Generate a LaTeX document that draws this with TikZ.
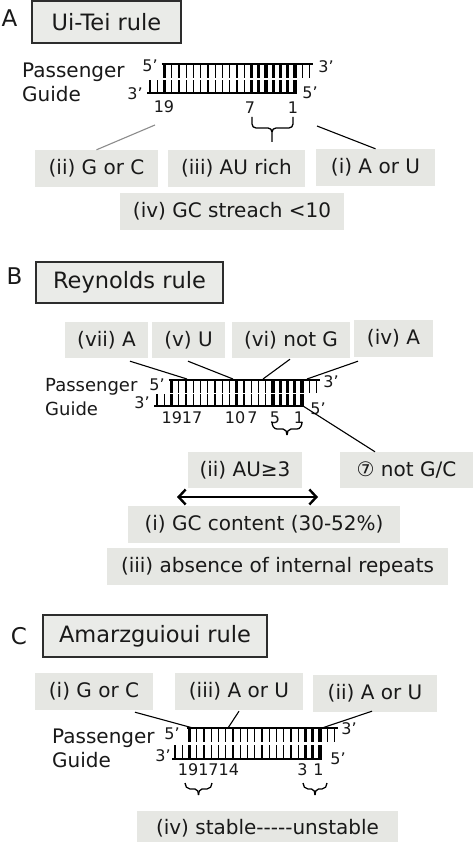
\documentclass[tikz,border=0pt]{standalone}
\usepackage{fontspec}
\setmainfont{DejaVu Sans}
\usetikzlibrary{arrows.meta}
\definecolor{boxfill}{RGB}{230,231,227}
\definecolor{titlefill}{RGB}{234,235,232}
\definecolor{titledraw}{RGB}{45,45,45}
\definecolor{txt}{RGB}{25,25,25}
\definecolor{lgray}{RGB}{140,140,140}
\tikzset{
  lbox/.style={fill=boxfill, inner sep=0pt, text=txt, font=\fontsize{20}{24}\selectfont},
  tbox/.style={fill=titlefill, draw=titledraw, line width=1.4pt, inner sep=0pt, text=txt, font=\fontsize{22.5}{27}\selectfont},
  panel/.style={inner sep=0pt, text=txt, font=\fontsize{23}{27}\selectfont},
  plab/.style={inner sep=0pt, text=txt, anchor=base west, font=\fontsize{20}{24}\selectfont},
  endlab/.style={inner sep=0pt, text=txt, font=\fontsize{16}{18}\selectfont},
  numlab/.style={inner sep=0pt, text=txt, font=\fontsize{16}{18}\selectfont},
  conn/.style={line width=1.1pt, draw=black},
  strand/.style={line width=2pt, line cap=butt},
  tkthin/.style={line width=1.4pt, line cap=butt},
  tkthick/.style={line width=3.4pt, line cap=butt},
  brc/.style={line width=1.3pt, draw=black},
}
\newcommand\drawduplex[6]{%
  \draw[strand] ({#1-20*7.25-3},#3) -- ({#1+2},#3);
  \draw[strand] ({#1-18*7.25-3},#2) -- ({#1+2*7.25+3},#2);
  \foreach \pp in {1,...,21}{\draw[tkthin] ({#1-(\pp-1)*7.25},#3) -- ({#1-(\pp-1)*7.25},#5);}
  \foreach \pp in {-1,...,19}{\draw[tkthin] ({#1-(\pp-1)*7.25},#2) -- ({#1-(\pp-1)*7.25},#4);}
  \foreach \pp in {#6}{%
    \draw[tkthick] ({#1-(\pp-1)*7.25},#3) -- ({#1-(\pp-1)*7.25},#5);
    \draw[tkthick] ({#1-(\pp-1)*7.25},#2) -- ({#1-(\pp-1)*7.25},#4);}
}
\begin{document}
\begin{tikzpicture}[x=1pt,y=-1pt]
\useasboundingbox (0,0) rectangle (474,842);
\fill[white] (0,0) rectangle (474,842);

% ---------------- A ----------------
\node[panel] (labA) at (9.5,18.5) {A};
\node[tbox, minimum width=149pt, minimum height=42pt] (titleA) at (106.5,22) {Ui-Tei rule};
\node[plab] (passA) at (22,78) {Passenger};
\node[plab] (guideA) at (22,102) {Guide};
\drawduplex{295}{64}{93}{78}{80}{19,1,2,3,4,5,6,7}
\node[endlab] (pA5) at (150,66) {5’};
\node[endlab] (gA3) at (135,94) {3’};
\node[endlab] (pA3) at (326,67) {3’};
\node[endlab] (gA5) at (310,93) {5’};
\node[numlab] (nA19) at (164,107) {19};
\node[numlab] (nA7) at (250,108) {7};
\node[numlab] (nA1) at (293,108) {1};
\draw[brc] (252,117) -- (252,124) to[out=-90,in=180] (256,128) -- (268,128) to[out=0,in=90] (272,132) -- (272,142);
\draw[brc] (293,117) -- (293,124) to[out=-90,in=0] (289,128) -- (276,128) to[out=180,in=90] (272,132);
\node[lbox, minimum width=123pt, minimum height=37pt] (boxAii) at (96.5,168.5) {(ii) G or C};
\node[lbox, minimum width=137pt, minimum height=37pt] (boxAiii) at (236.5,168.5) {(iii) AU rich};
\node[lbox, minimum width=119pt, minimum height=37pt] (boxAi) at (375.5,167.5) {(i) A or U};
\node[lbox, minimum width=224pt, minimum height=37pt] (boxAiv) at (232,211.5) {(iv) GC streach <10};
\coordinate (cA1) at (155,125);
\coordinate (cA2) at (317,126);
\draw[conn, draw=lgray] (cA1) -- (boxAii.north);
\draw[conn] (cA2) -- (boxAi.north);

% ---------------- B ----------------
\node[panel] (labB) at (14.5,276.5) {B};
\node[tbox, minimum width=187pt, minimum height=41pt] (titleB) at (129.5,282.5) {Reynolds rule};
\node[lbox, minimum width=83pt, minimum height=36pt] (boxBvii) at (106.5,340) {(vii) A};
\node[lbox, minimum width=73pt, minimum height=36pt] (boxBv) at (188.5,340) {(v) U};
\node[lbox, minimum width=118pt, minimum height=36pt] (boxBvi) at (291,340) {(vi) not G};
\node[lbox, minimum width=79pt, minimum height=37pt] (boxBiv) at (393.5,338.5) {(iv) A};
\node[plab, font=\fontsize{18}{22}\selectfont] (passB) at (45,391) {Passenger};
\node[plab, font=\fontsize{18}{22}\selectfont] (guideB) at (45,415) {Guide};
\drawduplex{302}{380}{406}{393}{394}{19,10,1,2,3,4,5}
\node[endlab] (pB5) at (157,385) {5’};
\node[endlab] (gB3) at (142,403) {3’};
\node[endlab] (pB3) at (331,382) {3’};
\node[endlab] (gB5) at (318,409) {5’};
\node[numlab] (nB1917) at (182,418) {1917};
\node[numlab] (nB10) at (235,418) {10};
\node[numlab] (nB7) at (252.5,418) {7};
\node[numlab] (nB5) at (275,418) {5};
\node[numlab] (nB1) at (299,418) {1};
\draw[brc] (272,422) to[out=-90,in=180] (277,429) -- (283,429) to[out=0,in=90] (287,435);
\draw[brc] (302,422) to[out=-90,in=0] (297,429) -- (291,429) to[out=180,in=90] (287,435);
\coordinate (dB1) at (187,379);
\coordinate (dB2) at (233,379);
\coordinate (dB3) at (263,379);
\coordinate (dB4) at (307,379);
\coordinate (dB5) at (303,406);
\draw[conn] ([xshift=23.5pt,yshift=-3pt]boxBvii.south) -- (dB1);
\draw[conn] ([xshift=-0.5pt,yshift=-3pt]boxBv.south) -- (dB2);
\draw[conn] ([xshift=-1pt,yshift=-1pt]boxBvi.south) -- (dB3);
\draw[conn] ([xshift=-35.5pt,yshift=-4pt]boxBiv.south) -- (dB4);
\node[lbox, minimum width=133pt, minimum height=36pt] (boxB7) at (406.5,470) {⑦ not G/C};
\node[lbox, minimum width=114pt, minimum height=36pt] (boxBii) at (245,470) {(ii) AU≥3};
\draw[conn] (dB5) -- ([xshift=-31.5pt]boxB7.north);
\coordinate (arB1) at (177,497);
\coordinate (arB2) at (318,497);
\draw[line width=2.4pt, {Straight Barb[length=7pt,width=15pt]}-{Straight Barb[length=7pt,width=15pt]}] (arB1) -- (arB2);
\node[lbox, minimum width=272pt, minimum height=37pt] (boxBi) at (264,524.5) {(i) GC content (30-52\%)};
\node[lbox, minimum width=341pt, minimum height=37pt] (boxBiii) at (277.5,566.5) {(iii) absence of internal repeats};

% ---------------- C ----------------
\node[panel] (labC) at (19,636.5) {C};
\node[tbox, minimum width=224pt, minimum height=42pt] (titleC) at (155,636) {Amarzguioui rule};
\node[lbox, minimum width=118pt, minimum height=37pt] (boxCi) at (94,691.5) {(i) G or C};
\node[lbox, minimum width=128pt, minimum height=37pt] (boxCiii) at (239,691.5) {(iii) A or U};
\node[lbox, minimum width=124pt, minimum height=37pt] (boxCii) at (375,693.5) {(ii) A or U};
\node[plab] (passC) at (52,743) {Passenger};
\node[plab] (guideC) at (52,767) {Guide};
\drawduplex{320}{728}{759}{742}{745}{19,1,2,3}
\node[endlab] (pC5) at (172,734) {5’};
\node[endlab] (gC3) at (163,756) {3’};
\node[endlab] (pC3) at (349,729) {3’};
\node[endlab] (gC5) at (338,759) {5’};
\node[numlab] (nC19) at (208.5,770) {191714};
\node[numlab] (nC3) at (302.5,770) {3};
\node[numlab] (nC1) at (318.5,770) {1};
\draw[brc] (185,783) to[out=-90,in=180] (190,789) -- (195,789) to[out=0,in=90] (198.5,795);
\draw[brc] (212,783) to[out=-90,in=0] (207,789) -- (202,789) to[out=180,in=90] (198.5,795);
\draw[brc] (303,783) to[out=-90,in=180] (308,789) -- (311.5,789) to[out=0,in=90] (315,795);
\draw[brc] (327,783) to[out=-90,in=0] (322,789) -- (318.5,789) to[out=180,in=90] (315,795);
\coordinate (dC1) at (193,728);
\coordinate (dC2) at (228,728);
\coordinate (dC3) at (322,728);
\draw[conn] ([xshift=41pt,yshift=-2pt]boxCi.south) -- (dC1);
\draw[conn] ([yshift=-1pt]boxCiii.south) -- (dC2);
\draw[conn] ([xshift=-3pt,yshift=1pt]boxCii.south) -- (dC3);
\node[lbox, minimum width=261pt, minimum height=34pt] (boxCiv) at (267.5,828) {(iv) stable-{}-{}-{}-{}-unstable};
\end{tikzpicture}
\end{document}
